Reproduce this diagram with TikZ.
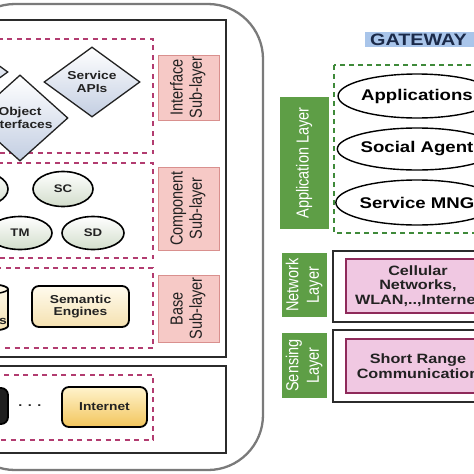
\documentclass[tikz,border=0pt]{standalone}
\usepackage{graphicx}
\usepackage{fontspec}
\setmainfont{Liberation Sans}
\newfontfamily\wb{Liberation Sans}[FakeStretch=1.2]
\usetikzlibrary{shapes.geometric}
\newcommand{\rotlab}[1]{\scalebox{1}[1.2]{\begin{tabular}{@{}c@{}}#1\end{tabular}}}
\definecolor{mag}{HTML}{B23C70}
\definecolor{subfill}{HTML}{F6C9C6}
\definecolor{subbd}{HTML}{D9908E}
\definecolor{grn}{HTML}{5E9E46}
\definecolor{gdash}{HTML}{3F8A3A}
\definecolor{pinkf}{HTML}{F0C8E2}
\definecolor{pinkbd}{HTML}{8E2A5A}
\definecolor{frame}{HTML}{7A7A7A}
\definecolor{boxbd}{HTML}{2B2B2B}
\definecolor{diamb}{HTML}{C3CEE2}
\definecolor{ellg}{HTML}{D2DDCB}
\definecolor{creamt}{HTML}{FFFBEE}
\definecolor{creamb}{HTML}{F5E1B0}
\definecolor{orat}{HTML}{FFF3CC}
\definecolor{orab}{HTML}{F2C55C}
\definecolor{gwblue}{HTML}{A9C5EA}
\definecolor{gwtext}{HTML}{1B2A49}
\definecolor{txt}{HTML}{222222}
\begin{document}
\begin{tikzpicture}[x=1pt,y=-1pt,
  magdash/.style={draw=mag, line width=2pt, dash pattern=on 5pt off 4.5pt},
  blackbox/.style={draw=boxbd, line width=2pt},
  sublabel/.style={draw=subbd, fill=subfill, line width=0.6pt, rotate=90,
    minimum height=61pt, inner sep=0pt, align=center, text=txt,
    font=\fontsize{14.5}{16}\selectfont},
  grnlabel/.style={fill=grn, rotate=90, inner sep=0pt, align=center, text=white,
    font=\fontsize{14.5}{17}\selectfont},
  diam/.style={diamond, draw=txt, line width=1.3pt, top color=white, bottom color=diamb,
    minimum width=96pt, minimum height=70pt, inner sep=0pt, align=center, text=txt,
    font=\wb\bfseries\fontsize{11.5}{12.5}\selectfont},
  comp/.style={ellipse, draw=black, line width=1.6pt, top color=white, bottom color=ellg,
    inner sep=0pt, text=txt, font=\wb\bfseries\fontsize{11}{12}\selectfont},
  appell/.style={ellipse, draw=black, line width=1.4pt, fill=white, minimum width=144pt,
    inner sep=0pt, text=black, font=\wb\bfseries\fontsize{15.5}{17}\selectfont},
  pinkbox/.style={draw=pinkbd, fill=pinkf, line width=2pt, minimum width=144pt,
    minimum height=54pt, inner sep=0pt, align=center, text=txt,
    font=\wb\bfseries\fontsize{13.5}{14.5}\selectfont},
  basebox/.style={draw=black, line width=1.8pt, rounded corners=7pt, inner sep=0pt,
    align=center, text=txt, font=\wb\bfseries\fontsize{11.5}{12.5}\selectfont}
]
\useasboundingbox (0,0) rectangle (474,474);
\clip (0,0) rectangle (474,474);
\fill[white] (0,0) rectangle (474,474);

% outer rounded frame
\draw[draw=frame, line width=2.3pt, rounded corners=55pt] (-40,4) rectangle (263,470);

% inner black boxes
\draw[blackbox] (-10,20) rectangle (226,357);
\draw[blackbox] (-10,366) rectangle (226,453);

% dashed sub-layer regions
\draw[magdash] (-10,39) rectangle (153,153);
\draw[magdash] (-10,163) rectangle (153,258);
\draw[magdash] (-10,268) rectangle (153,348);
\draw[magdash] (-10,375) rectangle (153,440);

% sub-layer labels
\node[sublabel, minimum width=65pt] (ifl) at (188.5,87.5) {\rotlab{Interface\\Sub-layer}};
\node[sublabel, minimum width=83pt] (cpl) at (188.5,208.5) {\rotlab{Component\\Sub-layer}};
\node[sublabel, minimum width=67pt] (bsl) at (188.5,308.5) {\rotlab{Base\\Sub-layer}};

% interface sub-layer diamonds
\node[diam] (d0) at (-40,72) {};
\node[diam] (api) at (92,82) {Service\\APIs};
\node[diam] (obj) at (20,118) {Object\\Interfaces};

% component ellipses
\node[comp, minimum width=60pt, minimum height=35pt] (c0) at (-22,189) {};
\node[comp, minimum width=60pt, minimum height=35pt] (sc) at (63,189) {SC};
\node[comp, minimum width=64pt, minimum height=33pt] (tm) at (20,233) {TM};
\node[comp, minimum width=62pt, minimum height=33pt] (sd) at (93,233) {SD};

% base sub-layer
\filldraw[draw=black, line width=1.8pt, top color=creamt, bottom color=creamb]
  (8,289) -- (8,326) arc[start angle=0, end angle=180, x radius=33, y radius=6]
  -- (-58,289) arc[start angle=180, end angle=360, x radius=33, y radius=6] -- cycle;
\draw[black, line width=1.5pt] (8,289) arc[start angle=0, end angle=180, x radius=33, y radius=6];
\node[anchor=east, inner sep=0pt, text=txt, font=\wb\bfseries\fontsize{11.5}{12.5}\selectfont]
  (db) at (7,320) {Databases};
\node[basebox, top color=creamt, bottom color=creamb, minimum width=97pt, minimum height=41pt]
  (sem) at (80.5,306.5) {Semantic\\Engines};

% lower layer
\node[basebox, fill=black!88, minimum width=76pt, minimum height=36pt] (blk) at (-30,406) {};
\node[inner sep=0pt, text=txt, font=\wb\bfseries\fontsize{12}{13}\selectfont]
  (dots) at (30,406) {.\hspace{5.5pt}.\hspace{5.5pt}.};
\node[basebox, top color=orat, bottom color=orab, minimum width=85pt, minimum height=40pt]
  (inet) at (104.5,407) {Internet};

% gateway title
\fill[gwblue] (365,32) rectangle (480,47);
\node[inner sep=0pt, text=gwtext, font=\wb\bfseries\fontsize{16.5}{18}\selectfont]
  (gw) at (418.5,39.8) {GATEWAY};

% application layer
\draw[draw=gdash, line width=1.6pt, dash pattern=on 5pt off 4pt] (334,65) rectangle (500,233);
\node[grnlabel, minimum width=132pt, minimum height=49pt] (appl) at (304.5,163) {\rotlab{Application Layer}};
\node[appell, minimum height=44pt] (apps) at (417,96) {Applications};
\node[appell, minimum height=42pt] (soc) at (417,149) {Social Agent};
\node[appell, minimum height=45pt] (smng) at (417,202.5) {Service MNG};

% network layer
\node[grnlabel, minimum width=64pt, minimum height=45pt] (netl) at (304.5,285) {\rotlab{Network\\Layer}};
\draw[blackbox, line width=1.8pt] (333,251) rectangle (500,322);
\node[pinkbox] (cell) at (418,286) {Cellular\\Networks,\\WLAN,..,Internet};

% sensing layer
\node[grnlabel, minimum width=65pt, minimum height=45pt] (senl) at (304.5,365.5) {\rotlab{Sensing\\Layer}};
\draw[blackbox, line width=1.8pt] (333,330) rectangle (500,402);
\node[pinkbox] (srange) at (418,366) {Short Range\\Communication};
\end{tikzpicture}
\end{document}
